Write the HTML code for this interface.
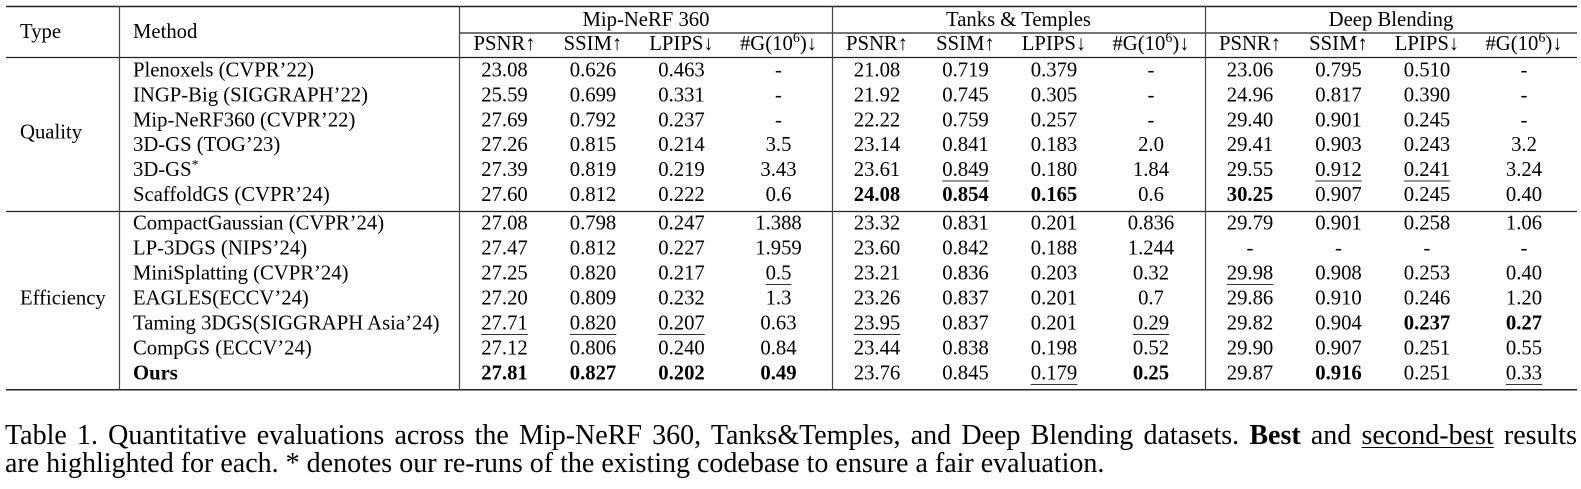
<!DOCTYPE html>
<html>
<head>
<meta charset="utf-8">
<style>
html,body{margin:0;padding:0;background:#fff;}
body{width:1581px;height:489px;position:relative;overflow:hidden;}
svg{position:absolute;left:0;top:0;}
svg text{font-family:"Liberation Serif","Times New Roman",serif;font-size:20.7px;fill:#000;}
svg .c{text-anchor:middle;}
svg .b{font-weight:bold;}
.cap{position:absolute;left:5px;width:1572px;font-family:"Liberation Serif","Times New Roman",serif;font-size:28px;line-height:28px;color:#000;text-align:justify;}
.cap u{text-decoration-thickness:1px;text-underline-offset:3px;}
</style>
</head>
<body>
<svg width="1581" height="489" viewBox="0 0 1581 489" xmlns="http://www.w3.org/2000/svg">
<g stroke="#222" fill="none">
<line x1="6" y1="6.5" x2="1577" y2="6.5" stroke-width="1.5"/>
<line x1="459.5" y1="33" x2="1577" y2="33" stroke-width="1.2"/>
<line x1="6" y1="57.5" x2="1577" y2="57.5" stroke-width="1.3"/>
<line x1="6" y1="211.5" x2="1577" y2="211.5" stroke-width="1.3"/>
<line x1="6" y1="389.8" x2="1577" y2="389.8" stroke-width="1.5"/>
</g>
<g stroke="#444" stroke-width="1.2">
<line x1="119.5" y1="6" x2="119.5" y2="390"/>
<line x1="459.5" y1="6" x2="459.5" y2="390"/>
<line x1="832.5" y1="6" x2="832.5" y2="390"/>
<line x1="1205.5" y1="6" x2="1205.5" y2="390"/>
</g>
<g stroke="#333" stroke-width="1">
<line x1="942.2" y1="181" x2="988.8" y2="181"/>
<line x1="1315.2" y1="181" x2="1361.8" y2="181"/>
<line x1="1403.7" y1="181" x2="1450.3" y2="181"/>
<line x1="765.5" y1="284.5" x2="791.5" y2="284.5"/>
<line x1="1226.7" y1="284.5" x2="1273.3" y2="284.5"/>
<line x1="481.2" y1="334.5" x2="527.8" y2="334.5"/>
<line x1="569.7" y1="334.5" x2="616.3" y2="334.5"/>
<line x1="658.2" y1="334.5" x2="704.8" y2="334.5"/>
<line x1="853.7" y1="334.5" x2="900.3" y2="334.5"/>
<line x1="1132.9" y1="334.5" x2="1169.1" y2="334.5"/>
<line x1="1030.7" y1="384.5" x2="1077.3" y2="384.5"/>
<line x1="1505.9" y1="384.5" x2="1542.1" y2="384.5"/>
</g>
<text x="20" y="38">Type</text>
<text x="133" y="38">Method</text>
<text class="c" x="646" y="26">Mip-NeRF 360</text>
<text class="c" x="1018.5" y="26">Tanks &amp; Temples</text>
<text class="c" x="1391" y="26">Deep Blending</text>

<text class="c" x="504.5" y="50">PSNR↑</text>
<text class="c" x="593" y="50">SSIM↑</text>
<text class="c" x="681.5" y="50">LPIPS↓</text>
<text class="c" x="778.5" y="50">#G(10<tspan dy="-8" font-size="14">6</tspan><tspan dy="8">)↓</tspan></text>
<text class="c" x="877" y="50">PSNR↑</text>
<text class="c" x="965.5" y="50">SSIM↑</text>
<text class="c" x="1054" y="50">LPIPS↓</text>
<text class="c" x="1151" y="50">#G(10<tspan dy="-8" font-size="14">6</tspan><tspan dy="8">)↓</tspan></text>
<text class="c" x="1250" y="50">PSNR↑</text>
<text class="c" x="1338.5" y="50">SSIM↑</text>
<text class="c" x="1427" y="50">LPIPS↓</text>
<text class="c" x="1524" y="50">#G(10<tspan dy="-8" font-size="14">6</tspan><tspan dy="8">)↓</tspan></text>

<text x="20" y="138.5">Quality</text>
<text x="20" y="304.5">Efficiency</text>

<text x="133" y="76.5">Plenoxels (CVPR’22)</text>
<text class="c" x="504.5" y="76.5">23.08</text>
<text class="c" x="593" y="76.5">0.626</text>
<text class="c" x="681.5" y="76.5">0.463</text>
<text class="c" x="778.5" y="76.5">-</text>
<text class="c" x="877" y="76.5">21.08</text>
<text class="c" x="965.5" y="76.5">0.719</text>
<text class="c" x="1054" y="76.5">0.379</text>
<text class="c" x="1151" y="76.5">-</text>
<text class="c" x="1250" y="76.5">23.06</text>
<text class="c" x="1338.5" y="76.5">0.795</text>
<text class="c" x="1427" y="76.5">0.510</text>
<text class="c" x="1524" y="76.5">-</text>

<text x="133" y="101.5">INGP-Big (SIGGRAPH’22)</text>
<text class="c" x="504.5" y="101.5">25.59</text>
<text class="c" x="593" y="101.5">0.699</text>
<text class="c" x="681.5" y="101.5">0.331</text>
<text class="c" x="778.5" y="101.5">-</text>
<text class="c" x="877" y="101.5">21.92</text>
<text class="c" x="965.5" y="101.5">0.745</text>
<text class="c" x="1054" y="101.5">0.305</text>
<text class="c" x="1151" y="101.5">-</text>
<text class="c" x="1250" y="101.5">24.96</text>
<text class="c" x="1338.5" y="101.5">0.817</text>
<text class="c" x="1427" y="101.5">0.390</text>
<text class="c" x="1524" y="101.5">-</text>

<text x="133" y="126.5">Mip-NeRF360 (CVPR’22)</text>
<text class="c" x="504.5" y="126.5">27.69</text>
<text class="c" x="593" y="126.5">0.792</text>
<text class="c" x="681.5" y="126.5">0.237</text>
<text class="c" x="778.5" y="126.5">-</text>
<text class="c" x="877" y="126.5">22.22</text>
<text class="c" x="965.5" y="126.5">0.759</text>
<text class="c" x="1054" y="126.5">0.257</text>
<text class="c" x="1151" y="126.5">-</text>
<text class="c" x="1250" y="126.5">29.40</text>
<text class="c" x="1338.5" y="126.5">0.901</text>
<text class="c" x="1427" y="126.5">0.245</text>
<text class="c" x="1524" y="126.5">-</text>

<text x="133" y="151">3D-GS (TOG’23)</text>
<text class="c" x="504.5" y="151">27.26</text>
<text class="c" x="593" y="151">0.815</text>
<text class="c" x="681.5" y="151">0.214</text>
<text class="c" x="778.5" y="151">3.5</text>
<text class="c" x="877" y="151">23.14</text>
<text class="c" x="965.5" y="151">0.841</text>
<text class="c" x="1054" y="151">0.183</text>
<text class="c" x="1151" y="151">2.0</text>
<text class="c" x="1250" y="151">29.41</text>
<text class="c" x="1338.5" y="151">0.903</text>
<text class="c" x="1427" y="151">0.243</text>
<text class="c" x="1524" y="151">3.2</text>

<text x="133" y="176">3D-GS<tspan dy="-7" font-size="14">*</tspan></text>
<text class="c" x="504.5" y="176">27.39</text>
<text class="c" x="593" y="176">0.819</text>
<text class="c" x="681.5" y="176">0.219</text>
<text class="c" x="778.5" y="176">3.43</text>
<text class="c" x="877" y="176">23.61</text>
<text class="c" x="965.5" y="176">0.849</text>
<text class="c" x="1054" y="176">0.180</text>
<text class="c" x="1151" y="176">1.84</text>
<text class="c" x="1250" y="176">29.55</text>
<text class="c" x="1338.5" y="176">0.912</text>
<text class="c" x="1427" y="176">0.241</text>
<text class="c" x="1524" y="176">3.24</text>

<text x="133" y="201">ScaffoldGS (CVPR’24)</text>
<text class="c" x="504.5" y="201">27.60</text>
<text class="c" x="593" y="201">0.812</text>
<text class="c" x="681.5" y="201">0.222</text>
<text class="c" x="778.5" y="201">0.6</text>
<text class="c b" x="877" y="201">24.08</text>
<text class="c b" x="965.5" y="201">0.854</text>
<text class="c b" x="1054" y="201">0.165</text>
<text class="c" x="1151" y="201">0.6</text>
<text class="c b" x="1250" y="201">30.25</text>
<text class="c" x="1338.5" y="201">0.907</text>
<text class="c" x="1427" y="201">0.245</text>
<text class="c" x="1524" y="201">0.40</text>

<text x="133" y="229.5">CompactGaussian (CVPR’24)</text>
<text class="c" x="504.5" y="229.5">27.08</text>
<text class="c" x="593" y="229.5">0.798</text>
<text class="c" x="681.5" y="229.5">0.247</text>
<text class="c" x="778.5" y="229.5">1.388</text>
<text class="c" x="877" y="229.5">23.32</text>
<text class="c" x="965.5" y="229.5">0.831</text>
<text class="c" x="1054" y="229.5">0.201</text>
<text class="c" x="1151" y="229.5">0.836</text>
<text class="c" x="1250" y="229.5">29.79</text>
<text class="c" x="1338.5" y="229.5">0.901</text>
<text class="c" x="1427" y="229.5">0.258</text>
<text class="c" x="1524" y="229.5">1.06</text>

<text x="133" y="254.5">LP-3DGS (NIPS’24)</text>
<text class="c" x="504.5" y="254.5">27.47</text>
<text class="c" x="593" y="254.5">0.812</text>
<text class="c" x="681.5" y="254.5">0.227</text>
<text class="c" x="778.5" y="254.5">1.959</text>
<text class="c" x="877" y="254.5">23.60</text>
<text class="c" x="965.5" y="254.5">0.842</text>
<text class="c" x="1054" y="254.5">0.188</text>
<text class="c" x="1151" y="254.5">1.244</text>
<text class="c" x="1250" y="254.5">-</text>
<text class="c" x="1338.5" y="254.5">-</text>
<text class="c" x="1427" y="254.5">-</text>
<text class="c" x="1524" y="254.5">-</text>

<text x="133" y="279.5">MiniSplatting (CVPR’24)</text>
<text class="c" x="504.5" y="279.5">27.25</text>
<text class="c" x="593" y="279.5">0.820</text>
<text class="c" x="681.5" y="279.5">0.217</text>
<text class="c" x="778.5" y="279.5">0.5</text>
<text class="c" x="877" y="279.5">23.21</text>
<text class="c" x="965.5" y="279.5">0.836</text>
<text class="c" x="1054" y="279.5">0.203</text>
<text class="c" x="1151" y="279.5">0.32</text>
<text class="c" x="1250" y="279.5">29.98</text>
<text class="c" x="1338.5" y="279.5">0.908</text>
<text class="c" x="1427" y="279.5">0.253</text>
<text class="c" x="1524" y="279.5">0.40</text>

<text x="133" y="304.5">EAGLES(ECCV’24)</text>
<text class="c" x="504.5" y="304.5">27.20</text>
<text class="c" x="593" y="304.5">0.809</text>
<text class="c" x="681.5" y="304.5">0.232</text>
<text class="c" x="778.5" y="304.5">1.3</text>
<text class="c" x="877" y="304.5">23.26</text>
<text class="c" x="965.5" y="304.5">0.837</text>
<text class="c" x="1054" y="304.5">0.201</text>
<text class="c" x="1151" y="304.5">0.7</text>
<text class="c" x="1250" y="304.5">29.86</text>
<text class="c" x="1338.5" y="304.5">0.910</text>
<text class="c" x="1427" y="304.5">0.246</text>
<text class="c" x="1524" y="304.5">1.20</text>

<text x="133" y="329.5">Taming 3DGS(SIGGRAPH Asia’24)</text>
<text class="c" x="504.5" y="329.5">27.71</text>
<text class="c" x="593" y="329.5">0.820</text>
<text class="c" x="681.5" y="329.5">0.207</text>
<text class="c" x="778.5" y="329.5">0.63</text>
<text class="c" x="877" y="329.5">23.95</text>
<text class="c" x="965.5" y="329.5">0.837</text>
<text class="c" x="1054" y="329.5">0.201</text>
<text class="c" x="1151" y="329.5">0.29</text>
<text class="c" x="1250" y="329.5">29.82</text>
<text class="c" x="1338.5" y="329.5">0.904</text>
<text class="c b" x="1427" y="329.5">0.237</text>
<text class="c b" x="1524" y="329.5">0.27</text>

<text x="133" y="354.5">CompGS (ECCV’24)</text>
<text class="c" x="504.5" y="354.5">27.12</text>
<text class="c" x="593" y="354.5">0.806</text>
<text class="c" x="681.5" y="354.5">0.240</text>
<text class="c" x="778.5" y="354.5">0.84</text>
<text class="c" x="877" y="354.5">23.44</text>
<text class="c" x="965.5" y="354.5">0.838</text>
<text class="c" x="1054" y="354.5">0.198</text>
<text class="c" x="1151" y="354.5">0.52</text>
<text class="c" x="1250" y="354.5">29.90</text>
<text class="c" x="1338.5" y="354.5">0.907</text>
<text class="c" x="1427" y="354.5">0.251</text>
<text class="c" x="1524" y="354.5">0.55</text>

<text class="b" x="133" y="379.5">Ours</text>
<text class="c b" x="504.5" y="379.5">27.81</text>
<text class="c b" x="593" y="379.5">0.827</text>
<text class="c b" x="681.5" y="379.5">0.202</text>
<text class="c b" x="778.5" y="379.5">0.49</text>
<text class="c" x="877" y="379.5">23.76</text>
<text class="c" x="965.5" y="379.5">0.845</text>
<text class="c" x="1054" y="379.5">0.179</text>
<text class="c b" x="1151" y="379.5">0.25</text>
<text class="c" x="1250" y="379.5">29.87</text>
<text class="c b" x="1338.5" y="379.5">0.916</text>
<text class="c" x="1427" y="379.5">0.251</text>
<text class="c" x="1524" y="379.5">0.33</text>
</svg>

<div class="cap" style="top:421.5px;text-align-last:justify;">Table 1. Quantitative evaluations across the Mip-NeRF 360, Tanks&amp;Temples, and Deep Blending datasets. <b>Best</b> and <u>second-best</u> results</div>
<div class="cap" style="top:449.5px;text-align:left;">are highlighted for each. * denotes our re-runs of the existing codebase to ensure a fair evaluation.</div>
</body>
</html>
